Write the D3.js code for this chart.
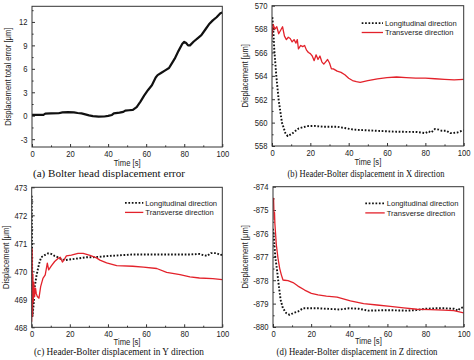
<!DOCTYPE html>
<html>
<head>
<meta charset="utf-8">
<script src="https://cdn.jsdelivr.net/npm/d3@7"></script>
<style>
  body { margin: 0; background: #fff; }
  svg { display: block; }
  .tick line { stroke: #333; }
</style>
</head>
<body>
<svg id="fig" width="474" height="360"></svg>
<script>
// ---- values: [time s, value] ----
var errorTotal = [[0,0.1],[3,0.1],[6,0.12],[7,0.28],[10,0.3],[14,0.32],[16,0.42],[19,0.45],[22,0.42],[24,0.35],[26,0.3],[28,0.18],[30,0.05],[32,-0.05],[35,-0.12],[38,-0.1],[40,-0.02],[42,0.1],[43,0.3],[46,0.4],[48,0.5],[49,0.65],[51,0.7],[53,0.75],[55,1.1],[57,1.8],[59,2.6],[61,3.3],[63,3.9],[65,4.9],[66,5.2],[68,5.5],[70,5.8],[72,6.1],[73,6.5],[75,7.3],[77,8.3],[79,9.2],[80,9.45],[81,9.3],[82,9.0],[83,9.0],[85,9.5],[87,9.9],[89,10.3],[91,11.0],[93,11.7],[95,12.2],[97,12.6],[99,13.1],[100,13.2]]

var xLongitudinal = [[0,569.0],[0.5,568.5],[1.2,566.2],[2.3,563.9],[3.5,561.9],[5.2,560.0],[7,559.1],[8.2,558.85],[10.4,559.05],[13.9,559.5],[18.3,559.7],[21.7,559.72],[27,559.65],[34,559.65],[42.6,559.4],[54.8,559.3],[65,559.22],[75.7,559.2],[80,559.1],[81.7,559.25],[83,559.15],[85,559.45],[87,559.4],[88.7,559.3],[91,559.3],[93,559.1],[96.5,559.15],[100,559.35]]
var xTransverse = [[0,567.3],[0.6,568.4],[1.5,568.0],[2.5,568.2],[3.5,567.6],[4.5,567.9],[5.5,568.2],[6.5,567.4],[7.5,567.1],[8.5,567.3],[9.5,567.2],[10.5,566.9],[11.5,567.1],[12.5,566.8],[13.2,567.1],[13.8,566.3],[15,566.6],[16,566.5],[17,566.6],[18,566.2],[19,566.0],[20,565.9],[21,565.7],[22,565.3],[23,565.8],[24,565.4],[25,565.7],[26,565.2],[27,565.0],[28,565.2],[29,565.4],[30,565.1],[31,564.6],[32,564.6],[34,564.4],[36,564.3],[38,564.1],[40,563.8],[42,563.6],[44,563.5],[46,563.45],[50,563.6],[55,563.75],[60,563.85],[65,563.9],[70,563.85],[75,563.8],[80,563.8],[85,563.75],[90,563.7],[95,563.65],[100,563.7]]

var yLongitudinal = [[0,472.7],[0.2,470.5],[0.4,468.4],[1.0,468.8],[1.6,469.45],[2.4,469.8],[3.3,470.1],[4.2,470.35],[5.0,470.5],[6.8,470.58],[8.5,470.64],[10.3,470.62],[12,470.55],[13.8,470.5],[15.5,470.43],[17.3,470.4],[20.8,470.43],[24.3,470.46],[28.7,470.5],[32,470.5],[41,470.55],[53,470.6],[71,470.6],[83,470.6],[88,470.62],[90,470.58],[92,470.55],[94,470.65],[97,470.65],[99,470.58],[100,470.6]]
var yTransverse = [[0,468.2],[0.2,470.8],[0.4,468.4],[0.6,469.9],[0.8,468.9],[1.1,469.6],[1.5,469.1],[2.0,469.4],[2.4,469.2],[2.95,469.1],[3.8,469.04],[4.7,469.45],[5.9,469.75],[7.1,469.87],[8.2,470.29],[8.9,470.05],[10.3,470.19],[12.05,470.35],[13.8,470.46],[15,470.5],[16.1,470.33],[16.9,470.4],[18.2,470.55],[20.8,470.58],[24.3,470.64],[27,470.64],[30.6,470.57],[34,470.48],[35.8,470.4],[39.3,470.3],[44.6,470.2],[53,470.18],[58.6,470.15],[65.6,470.1],[70.8,469.96],[77.8,469.88],[83,469.8],[88,469.76],[95,469.74],[100,469.7]]

var zLongitudinal = [[0,-875.8],[0.5,-876.2],[1.2,-877.0],[2.1,-877.56],[3.0,-878.2],[4.0,-878.84],[5.2,-879.2],[7,-879.41],[8.7,-879.48],[10.5,-879.41],[13.1,-879.34],[15.7,-879.2],[18.3,-879.2],[23.6,-879.2],[28,-879.22],[35,-879.25],[40,-879.2],[45,-879.22],[50,-879.3],[60,-879.28],[70,-879.3],[75,-879.28],[80,-879.22],[85,-879.2],[90,-879.2],[95,-879.22],[97,-879.3],[98,-879.2],[100,-879.15]]
var zTransverse = [[0,-874.6],[0.3,-874.5],[0.6,-875.4],[0.8,-875.1],[1.0,-875.6],[1.22,-875.85],[1.75,-876.49],[2.62,-877.06],[3.5,-877.49],[4.37,-877.77],[5.24,-877.99],[6.12,-878.0],[7.87,-878.02],[10.5,-878.1],[13.1,-878.25],[16.6,-878.42],[20.1,-878.56],[23.6,-878.63],[28,-878.68],[33.6,-878.72],[40.6,-878.88],[47.5,-879.0],[54.5,-879.06],[61.5,-879.12],[68.5,-879.18],[75.5,-879.24],[82.5,-879.26],[89.5,-879.28],[94.8,-879.3],[100,-879.4]]

// ---- ticks and labels ----
var timeTicks = [0, 20, 40, 60, 80, 100]
var ticksA = [-3, 0, 3, 6, 9, 12]
var ticksB = [558, 560, 562, 564, 566, 568, 570]
var ticksC = [468, 469, 470, 471, 472, 473]
var ticksD = [-880, -879, -878, -877, -876, -875, -874]
var seriesNames = ["Longitudinal direction", "Transverse direction"]
var captions = ["(a) Bolter head displacement error",
                "(b) Header-Bolter displacement in X direction",
                "(c) Header-Bolter displacement in Y direction",
                "(d) Header-Bolter displacement in Z direction"]

var SANS = "'Liberation Sans', Arial, sans-serif",
    SERIF = "'Liberation Serif', 'Times New Roman', serif",
    SQUEEZE = 0.85,
    RED = "#e3222b"

var panels = [
	{ box: [32, 6.3, 222.3, 147], ydom: [-4, 14], yticks: ticksA, yminor: 1.5, ytitle: "Displacement total error [\u03bcm]",
	  lines: [{ d: errorTotal, kind: "thick" }], legend: null,
	  titleX: 10.5, timeY: 165.5, cap: [109, 176.8, 152] },
	{ box: [272, 5.7, 463.7, 146], ydom: [558, 570], yticks: ticksB, yminor: 1, ytitle: "Displacement [\u03bcm]",
	  lines: [{ d: xLongitudinal, kind: "dot" }, { d: xTransverse, kind: "red" }], legend: [361.7, 383, 23.1, 32.5],
	  titleX: 247.5, timeY: 165, cap: [366, 177.2, 157] },
	{ box: [31.7, 187.3, 222.3, 327.3], ydom: [468, 473], yticks: ticksC, yminor: 0.5, ytitle: "Displacement [\u03bcm]",
	  lines: [{ d: yLongitudinal, kind: "dot" }, { d: yTransverse, kind: "red" }], legend: [125, 143.3, 202.9, 212.4],
	  titleX: 9, timeY: 344.5, cap: [119, 354.6, 170] },
	{ box: [273, 186.7, 463.7, 327], ydom: [-880, -874], yticks: ticksD, yminor: 0.5, ytitle: "Displacement [\u03bcm]",
	  lines: [{ d: zLongitudinal, kind: "dot" }, { d: zTransverse, kind: "red" }], legend: [365.3, 384.7, 203.4, 212.9],
	  titleX: 247.5, timeY: 344, cap: [357, 355, 161] }
]

var svg = d3.select("#fig")
svg.append("rect").attr("width", 474).attr("height", 360).attr("fill", "#fff")

function squeezeLabels (sel) {
	sel.selectAll("text").each(function () {
		var t = d3.select(this), x = +t.attr("x") || 0
		t.attr("x", 0).attr("transform", "translate(" + x + ",0) scale(" + SQUEEZE + ",1)")
	})
}

function styleLine (p, kind) {
	if (kind === "thick") p.attr("stroke", "#111").attr("stroke-width", 2.2)
	else if (kind === "dot") p.attr("stroke", "#111").attr("stroke-width", 1.9).attr("stroke-dasharray", "1.7,1.7")
	else p.attr("stroke", RED).attr("stroke-width", 1.3)
}

panels.forEach(function (pn, i) {
	var L = pn.box[0], T = pn.box[1], R = pn.box[2], B = pn.box[3]
	var x = d3.scaleLinear().domain([0, 100]).range([L, R]),
	    y = d3.scaleLinear().domain(pn.ydom).range([B, T])
	var g = svg.append("g")

	// minor ticks
	var xm = d3.range(10, 100, 20), ym = pn.yticks.map(function (v) { return v + pn.yminor }).filter(function (v) { return v < pn.ydom[1] })
	g.append("g").attr("transform", "translate(0," + B + ")")
	 .call(d3.axisBottom(x).tickValues(xm).tickSize(-1.6).tickFormat(""))
	 .call(function (a) { a.select(".domain").remove() })
	g.append("g").attr("transform", "translate(" + L + ",0)")
	 .call(d3.axisLeft(y).tickValues(ym).tickSize(-1.6).tickFormat(""))
	 .call(function (a) { a.select(".domain").remove() })

	// major ticks + labels
	g.append("g").attr("transform", "translate(0," + B + ")")
	 .call(d3.axisBottom(x).tickValues(timeTicks).tickSize(-3).tickPadding(3.5).tickFormat(function (d) { return String(d) }))
	 .call(function (a) { a.select(".domain").remove() })
	 .call(squeezeLabels)
	 .selectAll("text").attr("font-family", SANS).attr("font-size", 9).attr("fill", "#222")
	g.append("g").attr("transform", "translate(" + L + ",0)")
	 .call(d3.axisLeft(y).tickValues(pn.yticks).tickSize(-3).tickPadding(4.5).tickFormat(function (d) { return String(d) }))
	 .call(function (a) { a.select(".domain").remove() })
	 .call(squeezeLabels)
	 .selectAll("text").attr("font-family", SANS).attr("font-size", 9).attr("fill", "#222")

	// data
	var line = d3.line().x(function (d) { return x(d[0]) }).y(function (d) { return y(d[1]) })
	g.append("clipPath").attr("id", "clip" + i).append("rect")
	 .attr("x", L).attr("y", T).attr("width", R - L).attr("height", B - T)
	pn.lines.forEach(function (s) {
		var p = g.append("path").datum(s.d).attr("d", line).attr("fill", "none")
		         .attr("stroke-linejoin", "round").attr("clip-path", "url(#clip" + i + ")")
		styleLine(p, s.kind)
	})

	// frame
	g.append("rect").attr("x", L).attr("y", T).attr("width", R - L).attr("height", B - T)
	 .attr("fill", "none").attr("stroke", "#333").attr("stroke-width", 1)

	// axis titles
	g.append("text").attr("transform", "translate(" + (L + R) / 2 + "," + pn.timeY + ") scale(" + SQUEEZE + ",1)")
	 .attr("text-anchor", "middle").attr("font-family", SANS).attr("font-size", 9).attr("fill", "#222")
	 .text("Time [s]")
	g.append("text").attr("transform", "translate(" + pn.titleX + "," + (T + B) / 2 + ") rotate(-90) scale(" + SQUEEZE + ",1)")
	 .attr("text-anchor", "middle").attr("font-family", SANS).attr("font-size", 9).attr("fill", "#222")
	 .text(pn.ytitle)

	// legend
	if (pn.legend) {
		var lg = pn.legend
		;["dot", "red"].forEach(function (k, j) {
			var ly = lg[2 + j]
			var p = g.append("path").attr("d", d3.line()([[lg[0], ly], [lg[1], ly]])).attr("fill", "none")
			styleLine(p, k)
			g.append("text").attr("transform", "translate(" + (lg[1] + 2) + "," + (ly + 2.8) + ") scale(0.95,1)")
			 .attr("font-family", SANS).attr("font-size", 8).attr("fill", "#222")
			 .text(seriesNames[j])
		})
	}

	// caption
	g.append("text").attr("x", pn.cap[0]).attr("y", pn.cap[1])
	 .attr("text-anchor", "middle").attr("font-family", SERIF).attr("font-size", 9.5).attr("fill", "#111")
	 .attr("textLength", pn.cap[2]).attr("lengthAdjust", "spacingAndGlyphs")
	 .text(captions[i])
})
</script>
</body>
</html>
